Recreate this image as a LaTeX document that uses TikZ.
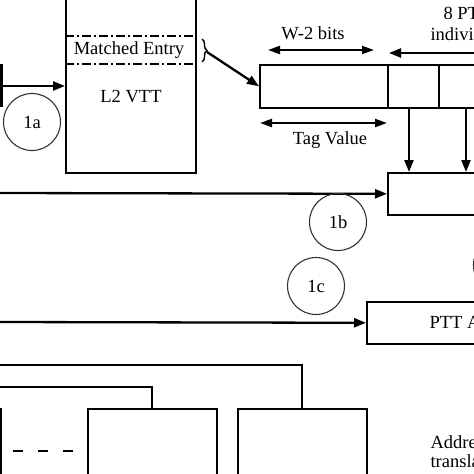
\documentclass[tikz,border=0pt]{standalone}
\usepackage{fontspec}
\setmainfont{Liberation Serif}
\usetikzlibrary{arrows.meta, decorations.pathreplacing}

\begin{document}
\begin{tikzpicture}[x=1pt, y=-1pt, font=\fontsize{18.5}{22}\selectfont,
		box/.style={draw, line width=1.6pt, inner sep=0pt},
		stage/.style={circle, draw=black!80, line width=1.1pt, minimum size=57pt, inner sep=0pt},
		sig/.style={line width=2.3pt, -{Triangle[length=12pt, width=9pt]}},
		span/.style={line width=2.1pt, {Triangle[length=12pt, width=8pt]}-{Triangle[length=12pt, width=8pt]}},
		wire/.style={line width=1.8pt}]
			\useasboundingbox (0,0) rectangle (474,474);
			\clip (0,0) rectangle (474,474);
			% tables and registers
			\node[box, anchor=north west, minimum width=130pt, minimum height=192pt] (vtt) at (65,-20) {};
			\node[box, anchor=north west, minimum width=261pt, minimum height=43pt] (reg) at (259,64) {};
			\node[box, anchor=north west, minimum width=140pt, minimum height=42pt] (sel) at (387,172) {};
			\node[box, anchor=north west, minimum width=160pt, minimum height=42pt] (ptt) at (366,301) {};
			\node[box, anchor=north east, minimum width=120pt, minimum height=90pt] (unitA) at (1.5,408) {};
			\node[box, anchor=north west, minimum width=129pt, minimum height=90pt] (unitB) at (87,408) {};
			\node[box, anchor=north west, minimum width=129pt, minimum height=90pt] (unitC) at (237,408) {};
			\draw[wire, line width=3pt] (1,64) -- (1,107);
			% matched entry row
			\draw[line width=1.6pt, dash pattern=on 9pt off 3pt on 2pt off 3pt] (vtt.west |- 0,36) -- (vtt.east |- 0,36);
			\draw[line width=1.6pt, dash pattern=on 9pt off 3pt on 2pt off 3pt] (vtt.west |- 0,64) -- (vtt.east |- 0,64);
			\node (match) at (129,50) {Matched Entry};
			\node (vttlab) at (131,97) {L2 VTT};
			\draw[line width=1.4pt, decorate, decoration={brace, amplitude=5pt}] (202,39) -- (202,62);
			\coordinate (brtip) at (207,52);
			% register fields
			\foreach \fx in {388, 439}
			{
				\draw[box] (\fx,0 |- reg.north) -- (\fx,0 |- reg.south);
			}
			\foreach \fx in {409, 466}
			{
				\draw[sig] (\fx,0 |- reg.south) -- (\fx,0 |- sel.north);
			}
			\draw[sig] (brtip) -- (reg.west);
			\draw[span] (268,50) -- (374,50);
			\node (wbits) at (313,33) {W-2 bits};
			\draw[sig] (520,53) -- (389,53);
			\node[anchor=west] (ptthead) at (440,13) {8 PTT};
			\node[anchor=west] (pttind) at (427,34) {individual};
			\draw[span] (260,123) -- (387,123);
			\node (tagval) at (330,140) {Tag Value};
			% incoming requests
			\coordinate (in1a) at (0,86);
			\coordinate (in1b) at (0,193);
			\coordinate (in1c) at (0,322);
			\draw[sig] (in1a) -- (in1a -| vtt.west);
			\draw[sig] (in1b) -- (sel.west);
			\draw[sig] (in1c) -- (ptt.west);
			\node[anchor=west] (pttacc) at (426,322) {PTT Access};
			\node[stage] (s1a) at (32,122) {1a};
			\node[stage] (s1b) at (338,222) {1b};
			\node[stage] (s1c) at (316,286) {1c};
			\node[stage] (s2) at (502,265) {};
			% translation units
			\coordinate (busB) at (0,387);
			\coordinate (busC) at (0,365);
			\draw[wire] (busB) -| (unitB.north);
			\draw[wire] (busC) -| (unitC.north);
			\draw[wire, dash pattern=on 10pt off 15pt] (13,451) -- (75,451);
			\node[anchor=west] (addr) at (427,442) {Address};
			\node[anchor=west] (trans) at (427,461) {translation};
		\end{tikzpicture}
\end{document}
